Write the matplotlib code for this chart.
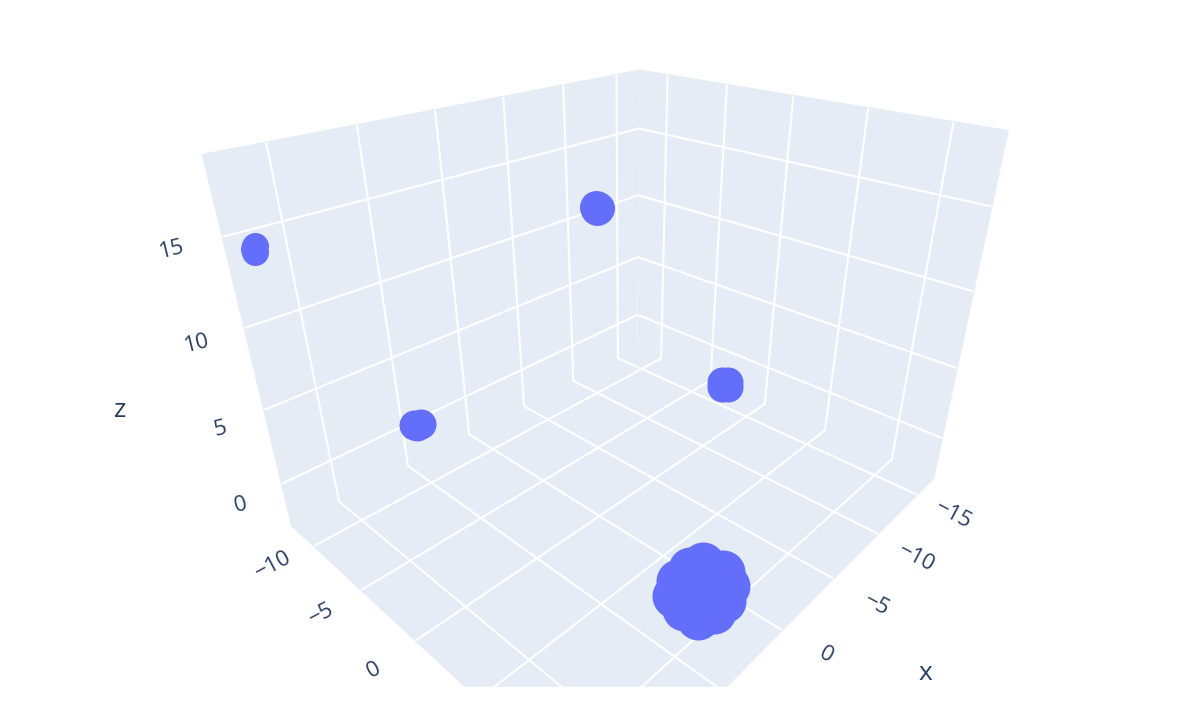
import matplotlib
matplotlib.use("Agg")
import matplotlib.pyplot as plt
from matplotlib.patches import Rectangle
from mpl_toolkits.mplot3d import proj3d

W, H, S = 1194, 726, 1400

x_ticks = [-15, -10, -5, 0, 5, 10]
y_ticks = [-10, -5, 0, 5, 10]
z_ticks = [0, 5, 10, 15]
x_labels = ['\u221215', '\u221210', '\u22125', '0']
y_labels = ['\u221210', '\u22125', '0']
z_labels = ['0', '5', '10', '15']

# the five clusters
a_x = [12.54, 12.90, 12.75]
a_y = [-10.26, -9.51, -9.92]
a_z = [15, 15, 15]
b_x = [-8.96, -8.79, -8.97]
b_y = [-8.73, -8.48, -8.57]
b_z = [12, 12, 12]
c_x = [-9.29, -9.54, -8.80, -9.05]
c_y = [1.76, 2.04, 2.13, 2.40]
c_z = [3, 3, 3, 3]
d_x = [6.72, 6.39, 6.66]
d_y = [-8.12, -7.92, -7.91]
d_z = [3, 3, 3]
e_x = [1.66, 1.46, 2.06, 2.95, 3.83, 4.65, 4.68, 4.35, 3.48, 2.41, 3.19, 2.34, 4.01, 3.72, 2.66]
e_y = [8.96, 10.07, 10.83, 11.23, 11.32, 11.00, 10.19, 9.33, 8.82, 8.72, 10.06, 9.39, 10.70, 9.50, 10.62]
e_z = [0] * 15

plt.rcParams['font.family'] = ['Open Sans', 'DejaVu Sans']
plt.rcParams['grid.color'] = 'white'
plt.rcParams['grid.linewidth'] = 1.5

DARK = '#2a3f5f'
PANE = '#e5ecf6'
BLUE = '#636efa'
XMIN, XMAX, YMIN, YMAX, ZMIN, ZMAX = -17.34, 13.08, -12.58, 12.86, -3.06, 19.05

fig = plt.figure(figsize=(W/100, H/100), dpi=100)
# camera and box fitted to the corners of the reference scene
ax = fig.add_axes([((W-S)/2+9.5)/W, ((H-S)/2+2.5)/H, S/W, S/H], projection='3d')
ax.view_init(27.813, 43.088)
ax.set_proj_type('persp', focal_length=0.10965)


def dot(d):
    # marker diameter in pixels to scatter size
    return (d*0.72)**2


for xs, ys, zs, d in [(a_x, a_y, a_z, 27), (b_x, b_y, b_z, 33), (c_x, c_y, c_z, 30),
                      (d_x, d_y, d_z, 30), (e_x, e_y, e_z, 44)]:
    ax.scatter(xs, ys, zs, s=dot(d), c=BLUE, depthshade=False, linewidths=0)

ax.set_box_aspect((1, 0.8466, 0.7306), zoom=0.56946)
ax.set_xlim3d(XMIN, XMAX)
ax.set_ylim3d(YMIN, YMAX)
ax.set_zlim3d(ZMIN, ZMAX)
ax.set_xticks(x_ticks)
ax.set_yticks(y_ticks)
ax.set_zticks(z_ticks)
ax.set_xticklabels([])
ax.set_yticklabels([])
ax.set_zticklabels([])
ax.tick_params(color=(1, 1, 1, 0))
for axis in (ax.xaxis, ax.yaxis, ax.zaxis):
    axis.line.set_color((1, 1, 1, 0))
    axis.pane.set_facecolor(PANE)
    axis.pane.set_edgecolor(PANE)
    axis.pane.set_linewidth(1.5)
    axis.pane.set_alpha(1)

ax.apply_aspect()
M = ax.get_proj()

# tick labels sit off the box edges and are tilted like plotly draws them
x_offsets = [(37, -21), (39, -24), (43, -27), (44, -25)]
for v, t, off in zip(x_ticks, x_labels, x_offsets):
    tx, ty, _ = proj3d.proj_transform(v, YMAX, ZMIN, M)
    ax.annotate(t, (tx, ty), xytext=off, textcoords='offset pixels', ha='center', va='center',
                rotation=-28, rotation_mode='anchor', color=DARK, fontsize=16, annotation_clip=False)

y_offsets = [(-41, -19), (-40, -24), (-42, -30)]
for v, t, off in zip(y_ticks, y_labels, y_offsets):
    tx, ty, _ = proj3d.proj_transform(XMAX, v, ZMIN, M)
    ax.annotate(t, (tx, ty), xytext=off, textcoords='offset pixels', ha='center', va='center',
                rotation=28, rotation_mode='anchor', color=DARK, fontsize=16, annotation_clip=False)

z_offsets = [(-41, -21), (-44, -19), (-48, -16), (-51, -13)]
for v, t, off in zip(z_ticks, z_labels, z_offsets):
    tx, ty, _ = proj3d.proj_transform(XMAX, YMIN, v, M)
    ax.annotate(t, (tx, ty), xytext=off, textcoords='offset pixels', ha='center', va='center',
                rotation=14, rotation_mode='anchor', color=DARK, fontsize=16, annotation_clip=False)

fig.text(925/W, 1-673/H, 'x', color=DARK, fontsize=19, ha='center', va='center')
fig.text(120/W, 1-410/H, 'z', color=DARK, fontsize=19, ha='center', va='center')

# plotly cuts the scene off at the bottom of its domain
fig.add_artist(Rectangle((0, 0), 1, (H-687)/H, transform=fig.transFigure, color='white', zorder=5))

fig.savefig('out.png', dpi=100)
